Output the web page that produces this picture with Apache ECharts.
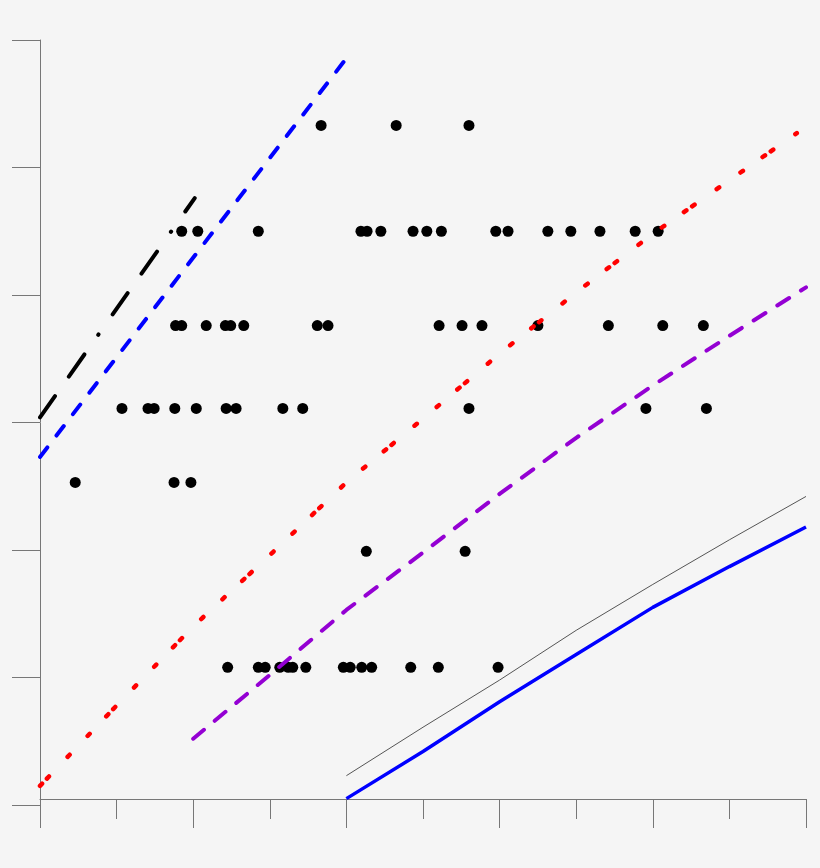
<!DOCTYPE html>
<html>
<head>
<meta charset="utf-8">
<script src="https://cdn.jsdelivr.net/npm/echarts@6/dist/echarts.min.js"></script>
<style>
html,body{margin:0;padding:0;background:#f5f5f5;}
#chart{width:820px;height:868px;}
</style>
</head>
<body>
<div id="chart"></div>
<script>
// ---- data ----
var dotRowY = [5.33, 4.50, 3.76, 3.11, 2.53, 1.99, 1.08];
var dotRowX = [
  [3.67, 4.65, 5.60],
  [1.85, 2.06, 2.85, 4.19, 4.27, 4.45, 4.87, 5.05, 5.24, 5.95, 6.11, 6.63, 6.93, 7.31, 7.77, 8.07],
  [1.77, 1.85, 2.17, 2.42, 2.49, 2.66, 3.62, 3.76, 5.21, 5.51, 5.77, 6.50, 7.42, 8.13, 8.66],
  [1.07, 1.41, 1.49, 1.76, 2.04, 2.43, 2.56, 3.17, 3.43, 5.60, 7.91, 8.70],
  [0.46, 1.75, 1.97],
  [4.26, 5.55],
  [2.45, 2.85, 2.94, 3.13, 3.24, 3.30, 3.47, 3.96, 4.05, 4.20, 4.33, 4.84, 5.20, 5.98]
];

var blackDashX = [0, 2.02];
var blackDashY = [3.04, 4.76];

var blueDashX = [0, 4.03];
var blueDashY = [2.73, 5.88];

var redX = [0, 1, 2, 3, 4, 5, 6, 7, 8, 9, 9.88];
var redY = [0.15, 0.78, 1.40, 1.96, 2.53, 3.03, 3.54, 4.02, 4.48, 4.90, 5.27];

var purpleX = [2, 3, 4, 5, 6, 7, 8, 9, 10];
var purpleY = [0.52, 1.02, 1.53, 1.98, 2.44, 2.88, 3.29, 3.68, 4.06];

var blueSolidX = [4, 5, 6, 7, 8, 9, 10];
var blueSolidY = [0.05, 0.42, 0.81, 1.18, 1.55, 1.87, 2.18];

var greyX = [4, 5, 6, 7, 8, 9, 10];
var greyY = [0.23, 0.61, 0.98, 1.37, 1.73, 2.08, 2.42];

// ---- build ----
function pairs(xs, ys) { return xs.map(function (x, i) { return [x, ys[i]]; }); }
var dots = [];
dotRowX.forEach(function (row, r) { row.forEach(function (x) { dots.push([x, dotRowY[r]]); }); });

var axisColor = '#777777';
var chart = echarts.init(document.getElementById('chart'), null, {renderer: 'canvas'});
chart.setOption({
  backgroundColor: '#f5f5f5',
  animation: false,
  grid: {left: 40, right: 14, top: 40, bottom: 63, containLabel: false},
  xAxis: {
    type: 'value', min: 0, max: 10, interval: 2, offset: -6,
    axisLine: {show: true, lineStyle: {color: axisColor, width: 1}},
    axisTick: {show: true, inside: false, length: 29, lineStyle: {color: axisColor, width: 1}},
    minorTick: {show: true, splitNumber: 2, length: 20, lineStyle: {color: axisColor, width: 1}},
    axisLabel: {show: false},
    splitLine: {show: false}
  },
  yAxis: {
    type: 'value', min: 0, max: 6, interval: 1,
    axisLine: {show: true, lineStyle: {color: axisColor, width: 1}},
    axisTick: {show: true, inside: false, length: 28, lineStyle: {color: axisColor, width: 1}},
    axisLabel: {show: false},
    splitLine: {show: false}
  },
  series: [
    {type: 'line', data: pairs(greyX, greyY), symbol: 'none',
     lineStyle: {color: '#555555', width: 1}},
    {type: 'line', data: pairs(blueSolidX, blueSolidY), symbol: 'none',
     lineStyle: {color: '#0000ff', width: 3.5}},
    {type: 'line', data: pairs(purpleX, purpleY), symbol: 'none',
     lineStyle: {color: '#9400d3', width: 4, type: [14, 14], cap: 'round'}},
    {type: 'line', data: pairs(redX, redY), symbol: 'none',
     lineStyle: {color: '#ff0000', width: 4.5, type: [3, 7, 3, 27, 3, 26, 3, 24], cap: 'round'}},
    {type: 'line', data: pairs(blueDashX, blueDashY), symbol: 'none',
     lineStyle: {color: '#0000ff', width: 4, type: [12, 15], cap: 'round'}},
    {type: 'line', data: pairs(blackDashX, blackDashY), symbol: 'none',
     lineStyle: {color: '#000000', width: 4, type: [26, 24, 27, 24, 0.5, 24.5], cap: 'round'}},
    {type: 'scatter', data: dots, symbol: 'circle', symbolSize: 11,
     itemStyle: {color: '#000000', opacity: 1}}
  ]
});
</script>
</body>
</html>
